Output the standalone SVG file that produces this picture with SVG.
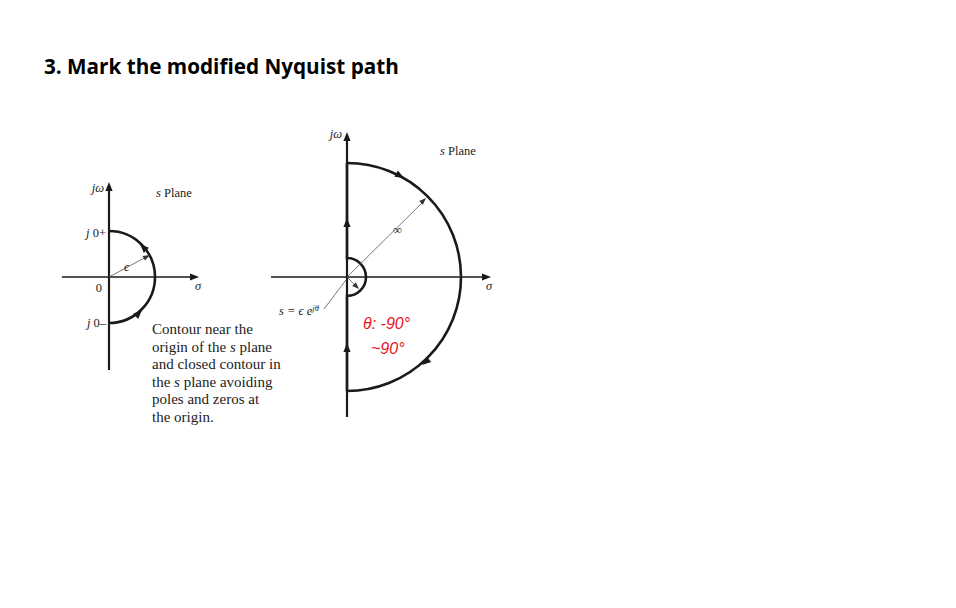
<svg xmlns="http://www.w3.org/2000/svg" width="956" height="608" viewBox="0 0 956 608">
<style>
.axis{stroke:#1a1a1a;stroke-width:1.6;fill:none}
.vaxis{stroke:#1a1a1a;stroke-width:2.2;fill:none}
.contour{stroke:#1a1a1a;stroke-width:2.6;fill:none}
.thin{stroke:#555;stroke-width:0.8;fill:none}
.lbl{font-family:"Liberation Serif",serif;font-size:12.5px;fill:#222}
.it{font-style:italic}
.body{font-family:"Liberation Serif",serif;font-size:15px;fill:#222}
.red{font-family:"Liberation Sans",sans-serif;font-size:16px;fill:#e8141c;font-style:italic}
</style>
<defs>
<path id="ah" d="M0,0 L-9,-3.6 L-9,3.6 Z" fill="#1a1a1a"/>
<path id="sh" d="M0,0 L-7,-2.6 L-7,2.6 Z" fill="#333"/>
</defs>
<rect width="956" height="608" fill="#fff"/>
<text x="44" y="74" font-family="'Open Sans','Liberation Sans',sans-serif" font-weight="bold" font-size="20.7" fill="#000">3. Mark the modified Nyquist path</text>

<g id="connectors">
<line class="vaxis" x1="109" y1="186" x2="109" y2="370"/>
<use href="#ah" transform="translate(109,182) rotate(-90)"/>
<line class="axis" x1="62" y1="277" x2="195" y2="277"/>
<use href="#ah" transform="translate(199,277)"/>
<line class="vaxis" x1="347" y1="136" x2="347" y2="417"/>
<use href="#ah" transform="translate(347,132) rotate(-90)"/>
<line class="axis" x1="271" y1="277" x2="487" y2="277"/>
<use href="#ah" transform="translate(491,277)"/>
</g>

<g id="small-contour">
<path class="contour" d="M109,231 A46,46 0 0 1 109,323"/>
<use href="#ah" transform="translate(140,244) rotate(-135)"/>
<use href="#ah" transform="translate(142,310) rotate(-45)"/>
<line class="thin" x1="109" y1="277" x2="148" y2="256"/>
<use href="#sh" transform="translate(150,255) rotate(-28)"/>
</g>

<g id="big-contour">
<path class="contour" d="M347,163 A114,114 0 0 1 347,391"/>
<path class="contour" d="M347,391 L347,296 A19,19 0 0 0 347,258 L347,163"/>
<use href="#ah" transform="translate(404,178) rotate(29)"/>
<use href="#ah" transform="translate(422,365) rotate(140)"/>
<use href="#ah" transform="translate(347,218) rotate(-90)"/>
<use href="#ah" transform="translate(347,343) rotate(-90)"/>
<line class="thin" x1="347" y1="277" x2="424" y2="201"/>
<use href="#sh" transform="translate(426,198) rotate(-45)"/>
<line class="thin" x1="324" y1="309" x2="346" y2="280"/>
<line class="thin" x1="347" y1="277" x2="356" y2="286"/>
<use href="#sh" transform="translate(359,289) rotate(45)"/>
</g>

<g id="labels-left">
<text class="lbl it" x="104" y="192" text-anchor="end">jω</text>
<text class="lbl" x="156" y="197"><tspan class="it">s</tspan> Plane</text>
<text class="lbl" x="106" y="237" text-anchor="end"><tspan class="it">j</tspan> 0+</text>
<text class="lbl" x="102" y="292" text-anchor="end">0</text>
<text class="lbl it" x="195" y="290">σ</text>
<text class="lbl" x="106" y="327" text-anchor="end"><tspan class="it">j</tspan> 0–</text>
<text class="lbl it" x="124" y="271" font-size="11">ϵ</text>
</g>

<g id="caption">
<text class="body" x="152" y="334">Contour near the</text>
<text class="body" x="152" y="352">origin of the <tspan class="it">s</tspan> plane</text>
<text class="body" x="152" y="369">and closed contour in</text>
<text class="body" x="152" y="387">the <tspan class="it">s</tspan> plane avoiding</text>
<text class="body" x="152" y="404">poles and zeros at</text>
<text class="body" x="152" y="422">the origin.</text>
</g>

<g id="labels-right">
<text class="lbl it" x="342" y="138" text-anchor="end">jω</text>
<text class="lbl" x="440" y="155"><tspan class="it">s</tspan> Plane</text>
<text class="lbl" x="393" y="234" font-size="12">∞</text>
<text class="lbl it" x="486" y="290">σ</text>
<text class="lbl it" x="279" y="315" font-size="10.5">s = ϵ e<tspan dy="-4" font-size="8.5">jθ</tspan></text>
</g>

<g id="annotation">
<text class="red" x="363" y="329">θ: -90°</text>
<text class="red" x="371" y="354">~90°</text>
</g>
</svg>
